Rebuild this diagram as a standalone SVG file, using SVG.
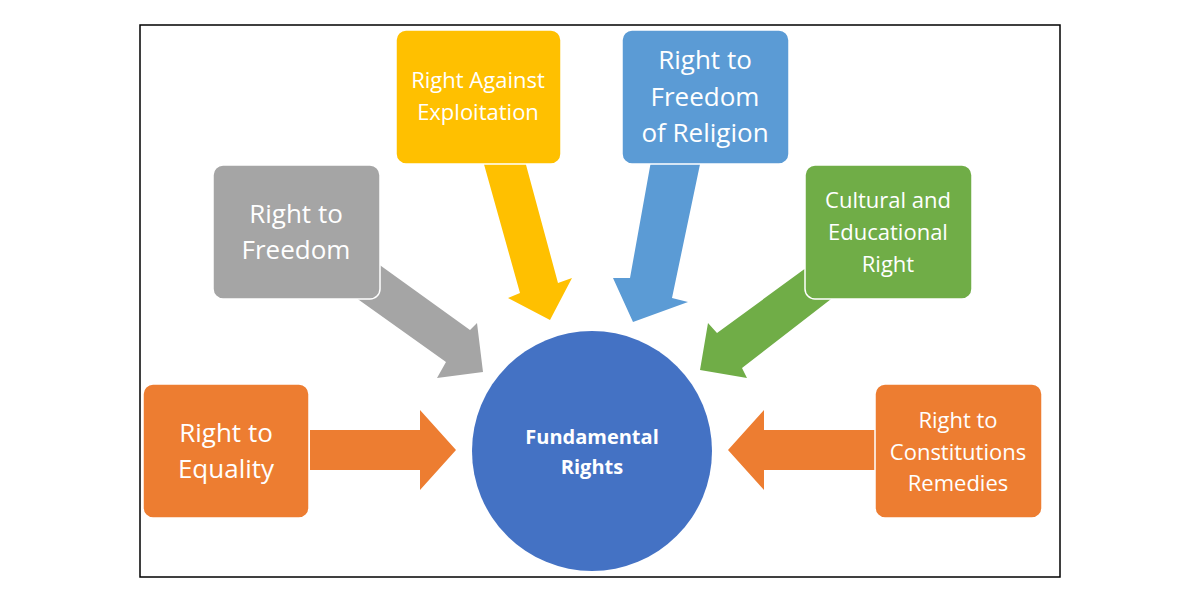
<svg xmlns="http://www.w3.org/2000/svg" width="1200" height="600" viewBox="0 0 1200 600">
<style>
text{font-family:"Open Sans","Liberation Sans",sans-serif;fill:#fff;text-anchor:middle}
.box{stroke:#fff;stroke-width:1.5}
.big{font-size:26px}.sm{font-size:22px}
</style>
<rect width="1200" height="600" fill="#fff"/>
<rect x="140" y="25" width="920" height="552" fill="none" stroke="#000" stroke-width="1.5"/>
<g id="connectors">
<polygon fill="#ED7D31" points="310,430 420,430 420,410 456,450 420,490 420,470 310,470"/>
<polygon fill="#ED7D31" points="875,430 764,430 764,410 728,450 764,490 764,470 875,470"/>
<polygon fill="#A5A5A5" points="370,258 470,330 477,323 483,372 437,378 446,362 345,290"/>
<polygon fill="#FFC000" points="480,150 522,150 558,283 572,278 550,320 508,298 520,293"/>
<polygon fill="#5B9BD5" points="653,150 703,150 672,298 688,302 633,322 613,278 630,278"/>
<polygon fill="#70AD47" points="810,265 717,333 708,323 700,370 747,378 742,368 835,296"/>
</g>
<g id="equality"><rect class="box" x="143" y="384" width="166" height="134" rx="10" fill="#ED7D31"/>
<text class="big" x="226" y="442">Right to</text><text class="big" x="226" y="478">Equality</text></g>
<g id="freedom"><rect class="box" x="213" y="165" width="167" height="134" rx="10" fill="#A5A5A5"/>
<text class="big" x="296" y="223">Right to</text><text class="big" x="296" y="259">Freedom</text></g>
<g id="exploitation"><rect class="box" x="396" y="30" width="165" height="134" rx="10" fill="#FFC000"/>
<text class="sm" x="478" y="88">Right Against</text><text class="sm" x="478" y="120">Exploitation</text></g>
<g id="religion"><rect class="box" x="622" y="30" width="167" height="134" rx="10" fill="#5B9BD5"/>
<text class="big" x="705" y="69">Right to</text><text class="big" x="705" y="106">Freedom</text><text class="big" x="705" y="142">of Religion</text></g>
<g id="cultural"><rect class="box" x="805" y="165" width="167" height="134" rx="10" fill="#70AD47"/>
<text class="sm" x="888" y="208">Cultural and</text><text class="sm" x="888" y="240">Educational</text><text class="sm" x="888" y="272">Right</text></g>
<g id="remedies"><rect class="box" x="875" y="384" width="167" height="134" rx="10" fill="#ED7D31"/>
<text class="sm" x="958" y="428">Right to</text><text class="sm" x="958" y="460">Constitutions</text><text class="sm" x="958" y="491">Remedies</text></g>
<g id="center"><circle cx="592" cy="451" r="120" fill="#4472C4"/>
<text x="592" y="444" font-size="20" font-weight="bold">Fundamental</text><text x="592" y="474" font-size="20" font-weight="bold">Rights</text></g>
</svg>
